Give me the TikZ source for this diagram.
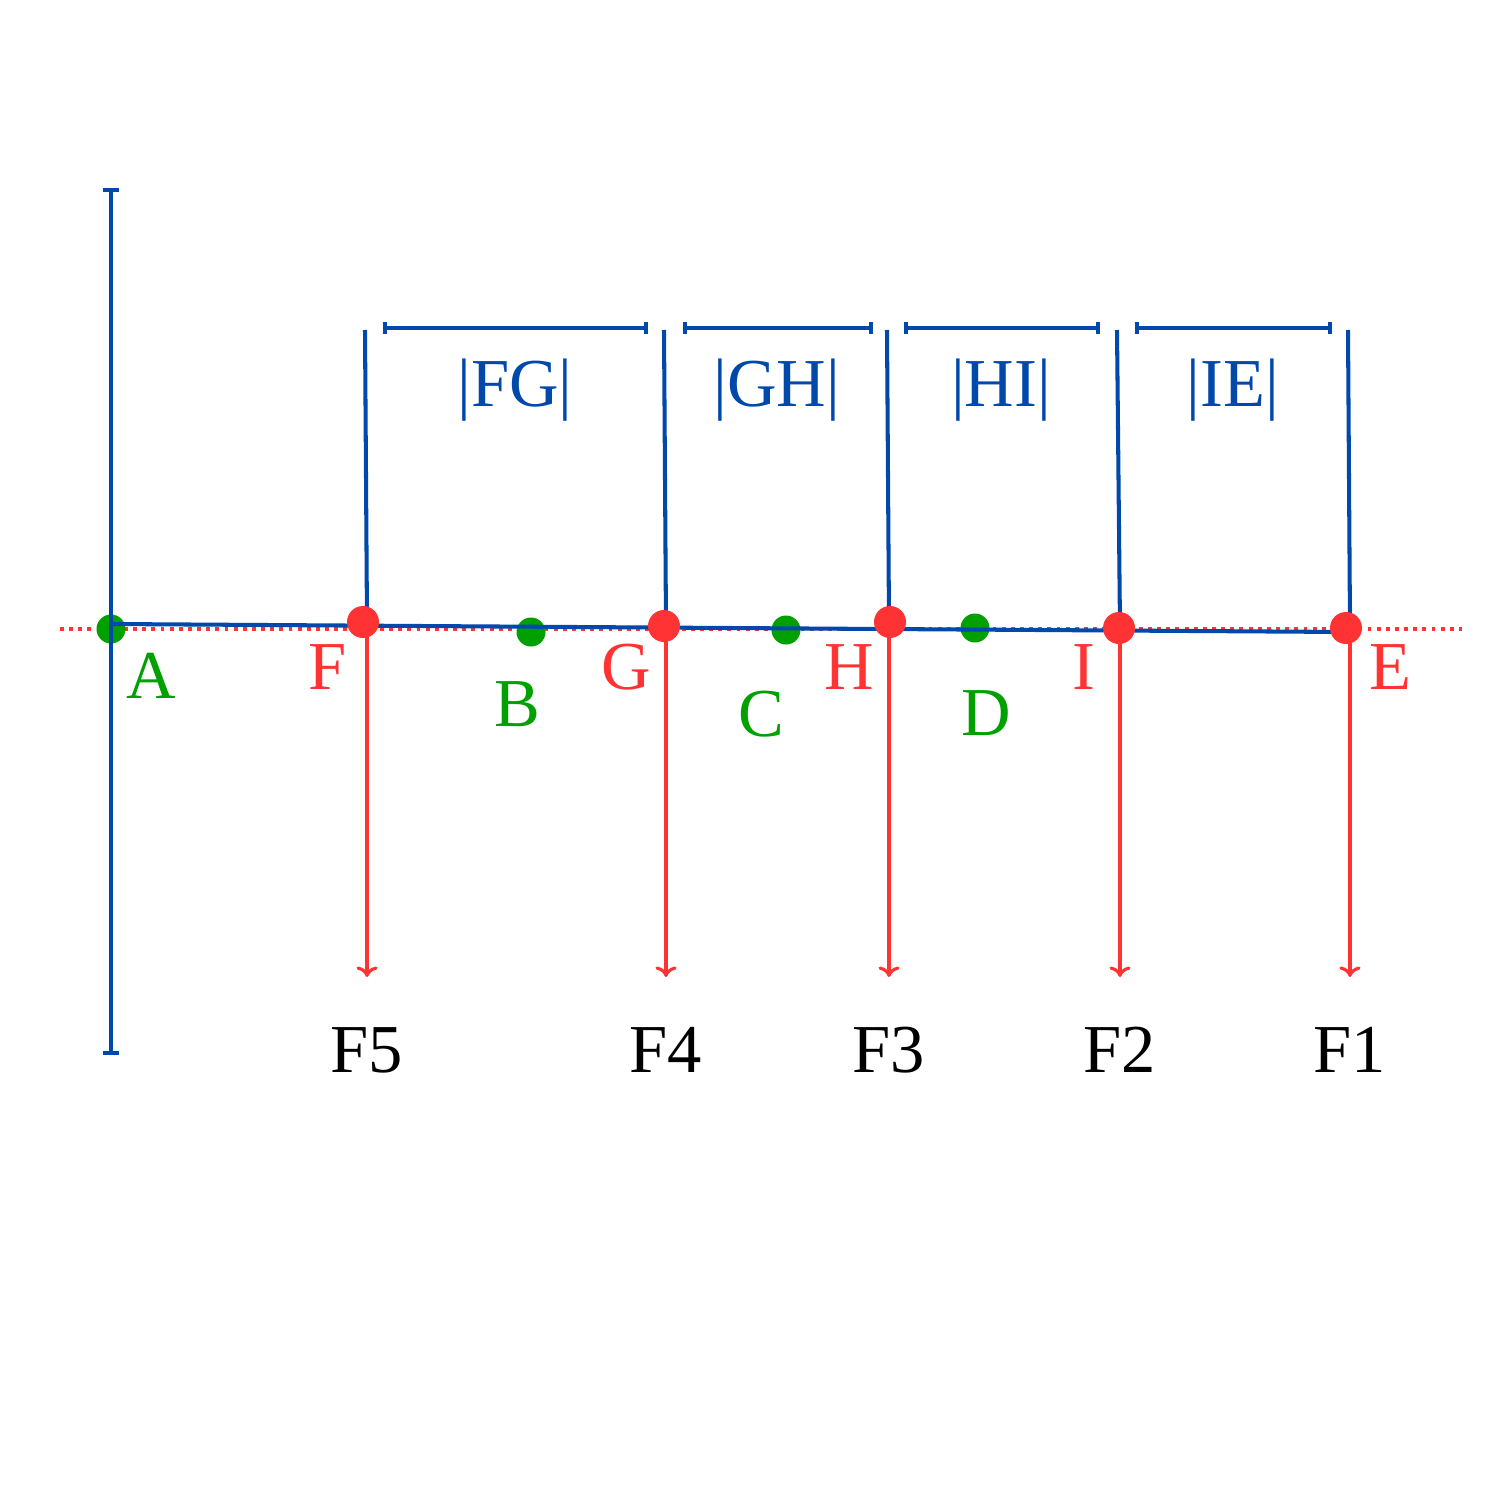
\documentclass[tikz,border=0pt]{standalone}
\usepackage{fontspec}
\setmainfont{Liberation Serif}
\usetikzlibrary{arrows.meta}
\definecolor{beamblue}{RGB}{0,72,170}
\definecolor{loadred}{RGB}{255,51,51}
\definecolor{pointgreen}{RGB}{0,160,0}
\tikzset{
  lbl/.style={font=\fontsize{19.5}{23}\selectfont, inner sep=0pt},
  beam/.style={beamblue, line width=1.15pt},
  load/.style={loadred, line width=0.9pt, -{To[length=3pt,width=6pt]}},
  span/.style={beamblue, line width=1.15pt, {Bar[width=3.6pt]}-{Bar[width=3.6pt]}}
}
\begin{document}
\begin{tikzpicture}[x=0.01cm, y=-0.01cm]
\useasboundingbox (0,0) rectangle (1500,1500);

% support and axis
\coordinate (A) at (111,629);
\coordinate (A-top) at (111,188);
\coordinate (A-bot) at (111,1055);
\coordinate (ax-l) at (60,629);
\coordinate (ax-r) at (1462,629);
\draw[loadred, line width=0.9pt, dash pattern=on 1.1pt off 1.5pt] (ax-l) -- (ax-r);

% green points
\foreach \n/\x/\y in {A/111/629, B/531/632, C/786/630, D/975/628}
  \fill[pointgreen] (\x,\y) circle (14.5);
\node[lbl, text=pointgreen] (lA) at (151,676) {A};
\node[lbl, text=pointgreen] (lB) at (517,704) {B};
\node[lbl, text=pointgreen] (lC) at (761,714) {C};
\node[lbl, text=pointgreen] (lD) at (986,713) {D};

\draw[beam, {Bar[width=4.5pt]}-{Bar[width=4.5pt]}] (A-top) -- (A-bot);
\coordinate (A-beam) at (111,624);
\coordinate (E-beam) at (1347,632);
\draw[beam] (A-beam) -- (E-beam);

% loads
\foreach \n/\x/\y/\t/\b/\k in {F/363/622/365/367/5, G/664/626/664/666/4, H/890/622/887/889/3, I/1119/628/1117/1120/2, E/1346/628/1348/1350/1}{
  \coordinate (\n) at (\x,\y);
  \coordinate (\n-top) at (\t,330);
  \coordinate (\n-foot) at (\b,\y);
  \coordinate (\n-bot) at (\b,977);
  \draw[beam] (\n-top) -- (\n-foot);
  \draw[load] (\n-foot) -- (\n-bot);
  \fill[loadred] (\n) circle (16);
  \node[lbl] (F\k) at (\b,1050) {F\k};
}
\node[lbl, text=loadred] (lF) at (328,667) {F};
\node[lbl, text=loadred] (lG) at (626,667) {G};
\node[lbl, text=loadred] (lH) at (849,667) {H};
\node[lbl, text=loadred] (lI) at (1084,667) {I};
\node[lbl, text=loadred] (lE) at (1390,667) {E};

% spans
\foreach \s/\l/\r/\m in {FG/383/648/515, GH/683/873/777, HI/904/1100/1001, IE/1135/1332/1233}{
  \coordinate (\s-l) at (\l,328);
  \coordinate (\s-r) at (\r,328);
  \draw[span] (\s-l) -- (\s-r);
  \node[lbl, text=beamblue] (d\s) at (\m,390) {|\s|};
}
\end{tikzpicture}
\end{document}
